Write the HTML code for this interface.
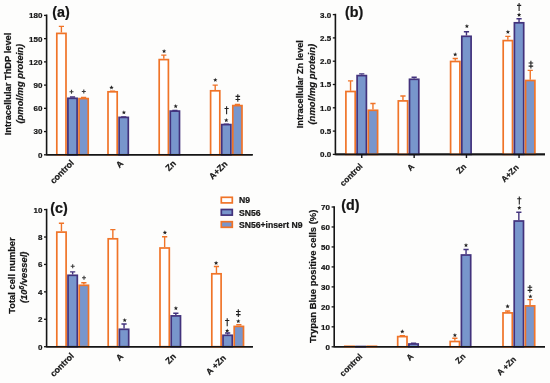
<!DOCTYPE html><html><head><meta charset="utf-8"><style>html,body{margin:0;padding:0;background:#fff;width:550px;height:383px;overflow:hidden}svg{display:block;will-change:transform}</style></head><body>
<svg width="550" height="383" viewBox="0 0 550 383" font-family='"Liberation Sans", sans-serif'><style>text{stroke:#151515;stroke-width:0.22px;paint-order:stroke}</style>
<rect width="550" height="383" fill="#fdfdfc"/>
<path d="M46.6 14.6V154.8H252.7" fill="none" stroke="#151515" stroke-width="1.6"/>
<path d="M44 154.8H46.6" stroke="#151515" stroke-width="1.3"/>
<text x="42.4" y="157.7" text-anchor="end" font-size="8" font-weight="bold" fill="#151515">0</text>
<path d="M44 131.57H46.6" stroke="#151515" stroke-width="1.3"/>
<text x="42.4" y="134.47" text-anchor="end" font-size="8" font-weight="bold" fill="#151515">30</text>
<path d="M44 108.33H46.6" stroke="#151515" stroke-width="1.3"/>
<text x="42.4" y="111.23" text-anchor="end" font-size="8" font-weight="bold" fill="#151515">60</text>
<path d="M44 85.1H46.6" stroke="#151515" stroke-width="1.3"/>
<text x="42.4" y="88" text-anchor="end" font-size="8" font-weight="bold" fill="#151515">90</text>
<path d="M44 61.87H46.6" stroke="#151515" stroke-width="1.3"/>
<text x="42.4" y="64.77" text-anchor="end" font-size="8" font-weight="bold" fill="#151515">120</text>
<path d="M44 38.63H46.6" stroke="#151515" stroke-width="1.3"/>
<text x="42.4" y="41.53" text-anchor="end" font-size="8" font-weight="bold" fill="#151515">150</text>
<path d="M44 15.4H46.6" stroke="#151515" stroke-width="1.3"/>
<text x="42.4" y="18.3" text-anchor="end" font-size="8" font-weight="bold" fill="#151515">180</text>
<text x="52.3" y="16.7" font-size="14.3" font-weight="bold" fill="#151515">(a)</text>
<path d="M61.4 32.55V26.4M58.8 26.4H64" stroke="#f07428" stroke-width="1.4"/>
<rect x="56.8" y="33.4" width="9.2" height="121.4" fill="#ffffff" stroke="#f07428" stroke-width="1.7"/>
<path d="M72.5 97.45V97M69.9 97H75.1" stroke="#42327c" stroke-width="1.4"/>
<rect x="67.9" y="98.3" width="9.2" height="56.5" fill="#7896cc" stroke="#42327c" stroke-width="1.7"/>
<path d="M83.6 97.75V97.5M81 97.5H86.2" stroke="#f07428" stroke-width="1.4"/>
<rect x="79" y="98.6" width="9.2" height="56.2" fill="#7896cc" stroke="#f07428" stroke-width="1.7"/>
<text transform="translate(74.5 163.5) rotate(-45)" text-anchor="end" font-size="8.7" font-weight="bold" fill="#151515">control</text>
<path d="M112.6 90.95V91.1M110 91.1H115.2" stroke="#f07428" stroke-width="1.4"/>
<rect x="108" y="91.8" width="9.2" height="63" fill="#ffffff" stroke="#f07428" stroke-width="1.7"/>
<path d="M123.7 116.55V117M121.1 117H126.3" stroke="#42327c" stroke-width="1.4"/>
<rect x="119.1" y="117.4" width="9.2" height="37.4" fill="#7896cc" stroke="#42327c" stroke-width="1.7"/>
<text transform="translate(124 164) rotate(-45)" text-anchor="end" font-size="8.7" font-weight="bold" fill="#151515">A</text>
<path d="M163.8 58.75V55.1M161.2 55.1H166.4" stroke="#f07428" stroke-width="1.4"/>
<rect x="159.2" y="59.6" width="9.2" height="95.2" fill="#ffffff" stroke="#f07428" stroke-width="1.7"/>
<path d="M174.9 110.25V110.5M172.3 110.5H177.5" stroke="#42327c" stroke-width="1.4"/>
<rect x="170.3" y="111.1" width="9.2" height="43.7" fill="#7896cc" stroke="#42327c" stroke-width="1.7"/>
<text transform="translate(176.5 164) rotate(-45)" text-anchor="end" font-size="8.7" font-weight="bold" fill="#151515">Zn</text>
<path d="M215.2 89.95V85.1M212.6 85.1H217.8" stroke="#f07428" stroke-width="1.4"/>
<rect x="210.6" y="90.8" width="9.2" height="64" fill="#ffffff" stroke="#f07428" stroke-width="1.7"/>
<path d="M226.3 123.75V124.2M223.7 124.2H228.9" stroke="#42327c" stroke-width="1.4"/>
<rect x="221.7" y="124.6" width="9.2" height="30.2" fill="#7896cc" stroke="#42327c" stroke-width="1.7"/>
<path d="M237.4 104.75V104.5M234.8 104.5H240" stroke="#f07428" stroke-width="1.4"/>
<rect x="232.8" y="105.6" width="9.2" height="49.2" fill="#7896cc" stroke="#f07428" stroke-width="1.7"/>
<text transform="translate(228 164.5) rotate(-45)" text-anchor="end" font-size="8.7" font-weight="bold" fill="#151515">A+Zn</text>
<path d="M46.6 154.8H252.7" fill="none" stroke="#151515" stroke-width="1.6"/>
<path d="M69.5 91.8H73.5M71.5 89.8V93.8" stroke="#3a3a3a" stroke-width="1.1"/>
<path d="M81.8 91.5H85.8M83.8 89.5V93.5" stroke="#3a3a3a" stroke-width="1.1"/>
<polygon points="111.5,85.3 112.09,86.79 113.69,86.89 112.45,87.91 112.85,89.46 111.5,88.6 110.15,89.46 110.55,87.91 109.31,86.89 110.91,86.79" fill="#222"/>
<polygon points="123.9,110.2 124.49,111.69 126.09,111.79 124.85,112.81 125.25,114.36 123.9,113.5 122.55,114.36 122.95,112.81 121.71,111.79 123.31,111.69" fill="#222"/>
<polygon points="164.1,48.9 164.69,50.39 166.29,50.49 165.05,51.51 165.45,53.06 164.1,52.2 162.75,53.06 163.15,51.51 161.91,50.49 163.51,50.39" fill="#222"/>
<polygon points="175.7,104 176.29,105.49 177.89,105.59 176.65,106.61 177.05,108.16 175.7,107.3 174.35,108.16 174.75,106.61 173.51,105.59 175.11,105.49" fill="#222"/>
<polygon points="215.3,77.7 215.89,79.19 217.49,79.29 216.25,80.31 216.65,81.86 215.3,81 213.95,81.86 214.35,80.31 213.11,79.29 214.71,79.19" fill="#222"/>
<polygon points="226.3,118 226.89,119.49 228.49,119.59 227.25,120.61 227.65,122.16 226.3,121.3 224.95,122.16 225.35,120.61 224.11,119.59 225.71,119.49" fill="#222"/>
<path d="M226.6 106.2V114.2M224.5 108.5H228.7" stroke="#222" stroke-width="1.1"/>
<path d="M237.8 94.2V101.8M235.5 96.4H240.1M235.5 99.5H240.1" stroke="#222" stroke-width="1.1"/>
<text transform="translate(10.9 84) rotate(-90)" text-anchor="middle" font-size="9.3" font-weight="bold" fill="#151515">Intracellular ThDP level</text>
<text transform="translate(23 83.7) rotate(-90)" text-anchor="middle" font-size="9.4" font-weight="bold" font-style="italic" fill="#151515">(pmol/mg protein)</text>
<path d="M335.4 13.8V154.4H545" fill="none" stroke="#151515" stroke-width="1.6"/>
<path d="M332.8 154.4H335.4" stroke="#151515" stroke-width="1.3"/>
<text x="331.2" y="157.3" text-anchor="end" font-size="8" font-weight="bold" fill="#151515">0.0</text>
<path d="M332.8 131.1H335.4" stroke="#151515" stroke-width="1.3"/>
<text x="331.2" y="134" text-anchor="end" font-size="8" font-weight="bold" fill="#151515">0.5</text>
<path d="M332.8 107.8H335.4" stroke="#151515" stroke-width="1.3"/>
<text x="331.2" y="110.7" text-anchor="end" font-size="8" font-weight="bold" fill="#151515">1.0</text>
<path d="M332.8 84.5H335.4" stroke="#151515" stroke-width="1.3"/>
<text x="331.2" y="87.4" text-anchor="end" font-size="8" font-weight="bold" fill="#151515">1.5</text>
<path d="M332.8 61.2H335.4" stroke="#151515" stroke-width="1.3"/>
<text x="331.2" y="64.1" text-anchor="end" font-size="8" font-weight="bold" fill="#151515">2.0</text>
<path d="M332.8 37.9H335.4" stroke="#151515" stroke-width="1.3"/>
<text x="331.2" y="40.8" text-anchor="end" font-size="8" font-weight="bold" fill="#151515">2.5</text>
<path d="M332.8 14.6H335.4" stroke="#151515" stroke-width="1.3"/>
<text x="331.2" y="17.5" text-anchor="end" font-size="8" font-weight="bold" fill="#151515">3.0</text>
<text x="344.9" y="16.8" font-size="14.3" font-weight="bold" fill="#151515">(b)</text>
<path d="M350.55 90.65V80.9M347.95 80.9H353.15" stroke="#f07428" stroke-width="1.4"/>
<rect x="345.9" y="91.5" width="9.3" height="62.9" fill="#ffffff" stroke="#f07428" stroke-width="1.7"/>
<path d="M361.75 74.75V73.9M359.15 73.9H364.35" stroke="#42327c" stroke-width="1.4"/>
<rect x="357.1" y="75.6" width="9.3" height="78.8" fill="#7896cc" stroke="#42327c" stroke-width="1.7"/>
<path d="M372.95 109.45V103.5M370.35 103.5H375.55" stroke="#f07428" stroke-width="1.4"/>
<rect x="368.3" y="110.3" width="9.3" height="44.1" fill="#7896cc" stroke="#f07428" stroke-width="1.7"/>
<path d="M361.75 154.4V158" stroke="#151515" stroke-width="1.4"/>
<text transform="translate(363.2 166.8) rotate(-45)" text-anchor="end" font-size="8.3" font-weight="bold" fill="#151515">control</text>
<path d="M402.95 100.05V96M400.35 96H405.55" stroke="#f07428" stroke-width="1.4"/>
<rect x="398.3" y="100.9" width="9.3" height="53.5" fill="#ffffff" stroke="#f07428" stroke-width="1.7"/>
<path d="M414.15 78.45V77.2M411.55 77.2H416.75" stroke="#42327c" stroke-width="1.4"/>
<rect x="409.5" y="79.3" width="9.3" height="75.1" fill="#7896cc" stroke="#42327c" stroke-width="1.7"/>
<path d="M414.15 154.4V158" stroke="#151515" stroke-width="1.4"/>
<text transform="translate(414.8 167.2) rotate(-45)" text-anchor="end" font-size="8.3" font-weight="bold" fill="#151515">A</text>
<path d="M455.25 60.65V58.5M452.65 58.5H457.85" stroke="#f07428" stroke-width="1.4"/>
<rect x="450.6" y="61.5" width="9.3" height="92.9" fill="#ffffff" stroke="#f07428" stroke-width="1.7"/>
<path d="M466.45 35.45V31.7M463.85 31.7H469.05" stroke="#42327c" stroke-width="1.4"/>
<rect x="461.8" y="36.3" width="9.3" height="118.1" fill="#7896cc" stroke="#42327c" stroke-width="1.7"/>
<path d="M466.45 154.4V158" stroke="#151515" stroke-width="1.4"/>
<text transform="translate(466.8 167.2) rotate(-45)" text-anchor="end" font-size="8.3" font-weight="bold" fill="#151515">Zn</text>
<path d="M507.85 39.75V36.4M505.25 36.4H510.45" stroke="#f07428" stroke-width="1.4"/>
<rect x="503.2" y="40.6" width="9.3" height="113.8" fill="#ffffff" stroke="#f07428" stroke-width="1.7"/>
<path d="M519.05 21.95V18.7M516.45 18.7H521.65" stroke="#42327c" stroke-width="1.4"/>
<rect x="514.4" y="22.8" width="9.3" height="131.6" fill="#7896cc" stroke="#42327c" stroke-width="1.7"/>
<path d="M530.25 79.65V70.4M527.65 70.4H532.85" stroke="#f07428" stroke-width="1.4"/>
<rect x="525.6" y="80.5" width="9.3" height="73.9" fill="#7896cc" stroke="#f07428" stroke-width="1.7"/>
<path d="M519.05 154.4V158" stroke="#151515" stroke-width="1.4"/>
<text transform="translate(519.3 168) rotate(-45)" text-anchor="end" font-size="8.3" font-weight="bold" fill="#151515">A+Zn</text>
<path d="M335.4 154.4H545" fill="none" stroke="#151515" stroke-width="1.6"/>
<polygon points="455.2,52.2 455.79,53.69 457.39,53.79 456.15,54.81 456.55,56.36 455.2,55.5 453.85,56.36 454.25,54.81 453.01,53.79 454.61,53.69" fill="#222"/>
<polygon points="466.9,23.9 467.49,25.39 469.09,25.49 467.85,26.51 468.25,28.06 466.9,27.2 465.55,28.06 465.95,26.51 464.71,25.49 466.31,25.39" fill="#222"/>
<polygon points="507.9,29.7 508.49,31.19 510.09,31.29 508.85,32.31 509.25,33.86 507.9,33 506.55,33.86 506.95,32.31 505.71,31.29 507.31,31.19" fill="#222"/>
<polygon points="519.1,12.6 519.69,14.09 521.29,14.19 520.05,15.21 520.45,16.76 519.1,15.9 517.75,16.76 518.15,15.21 516.91,14.19 518.51,14.09" fill="#222"/>
<path d="M519.1 3.1V11.1M517 5.4H521.2" stroke="#222" stroke-width="1.1"/>
<path d="M530.9 60.8V68.4M528.6 63H533.2M528.6 66.1H533.2" stroke="#222" stroke-width="1.1"/>
<text transform="translate(303 84.2) rotate(-90)" text-anchor="middle" font-size="9.1" font-weight="bold" fill="#151515">Intracellular Zn level</text>
<text transform="translate(314.6 84.2) rotate(-90)" text-anchor="middle" font-size="9.5" font-weight="bold" font-style="italic" fill="#151515">(nmol/mg protein)</text>
<path d="M46.6 208.8V346.7H252.9" fill="none" stroke="#151515" stroke-width="1.6"/>
<path d="M44 346.7H46.6" stroke="#151515" stroke-width="1.3"/>
<text x="42.4" y="349.6" text-anchor="end" font-size="8" font-weight="bold" fill="#151515">0</text>
<path d="M44 319.28H46.6" stroke="#151515" stroke-width="1.3"/>
<text x="42.4" y="322.18" text-anchor="end" font-size="8" font-weight="bold" fill="#151515">2</text>
<path d="M44 291.86H46.6" stroke="#151515" stroke-width="1.3"/>
<text x="42.4" y="294.76" text-anchor="end" font-size="8" font-weight="bold" fill="#151515">4</text>
<path d="M44 264.44H46.6" stroke="#151515" stroke-width="1.3"/>
<text x="42.4" y="267.34" text-anchor="end" font-size="8" font-weight="bold" fill="#151515">6</text>
<path d="M44 237.02H46.6" stroke="#151515" stroke-width="1.3"/>
<text x="42.4" y="239.92" text-anchor="end" font-size="8" font-weight="bold" fill="#151515">8</text>
<path d="M44 209.6H46.6" stroke="#151515" stroke-width="1.3"/>
<text x="42.4" y="212.5" text-anchor="end" font-size="8" font-weight="bold" fill="#151515">10</text>
<text x="50.2" y="212.9" font-size="14.3" font-weight="bold" fill="#151515">(c)</text>
<path d="M61.45 231.25V223.3M58.85 223.3H64.05" stroke="#f07428" stroke-width="1.4"/>
<rect x="56.8" y="232.1" width="9.3" height="114.6" fill="#ffffff" stroke="#f07428" stroke-width="1.7"/>
<path d="M72.65 274.45V271.9M70.05 271.9H75.25" stroke="#42327c" stroke-width="1.4"/>
<rect x="68" y="275.3" width="9.3" height="71.4" fill="#7896cc" stroke="#42327c" stroke-width="1.7"/>
<path d="M83.85 284.45V282.8M81.25 282.8H86.45" stroke="#f07428" stroke-width="1.4"/>
<rect x="79.2" y="285.3" width="9.3" height="61.4" fill="#7896cc" stroke="#f07428" stroke-width="1.7"/>
<text transform="translate(74.5 356.5) rotate(-45)" text-anchor="end" font-size="8.7" font-weight="bold" fill="#151515">control</text>
<path d="M112.85 237.95V229.6M110.25 229.6H115.45" stroke="#f07428" stroke-width="1.4"/>
<rect x="108.2" y="238.8" width="9.3" height="107.9" fill="#ffffff" stroke="#f07428" stroke-width="1.7"/>
<path d="M124.05 328.45V324M121.45 324H126.65" stroke="#42327c" stroke-width="1.4"/>
<rect x="119.4" y="329.3" width="9.3" height="17.4" fill="#7896cc" stroke="#42327c" stroke-width="1.7"/>
<text transform="translate(124 357) rotate(-45)" text-anchor="end" font-size="8.7" font-weight="bold" fill="#151515">A</text>
<path d="M164.65 247.15V236.7M162.05 236.7H167.25" stroke="#f07428" stroke-width="1.4"/>
<rect x="160" y="248" width="9.3" height="98.7" fill="#ffffff" stroke="#f07428" stroke-width="1.7"/>
<path d="M175.85 315.05V313.2M173.25 313.2H178.45" stroke="#42327c" stroke-width="1.4"/>
<rect x="171.2" y="315.9" width="9.3" height="30.8" fill="#7896cc" stroke="#42327c" stroke-width="1.7"/>
<text transform="translate(176.5 357) rotate(-45)" text-anchor="end" font-size="8.7" font-weight="bold" fill="#151515">Zn</text>
<path d="M216.45 272.95V266.5M213.85 266.5H219.05" stroke="#f07428" stroke-width="1.4"/>
<rect x="211.8" y="273.8" width="9.3" height="72.9" fill="#ffffff" stroke="#f07428" stroke-width="1.7"/>
<path d="M227.65 334.45V333M225.05 333H230.25" stroke="#42327c" stroke-width="1.4"/>
<rect x="223" y="335.3" width="9.3" height="11.4" fill="#7896cc" stroke="#42327c" stroke-width="1.7"/>
<path d="M238.85 325.55V324.8M236.25 324.8H241.45" stroke="#f07428" stroke-width="1.4"/>
<rect x="234.2" y="326.4" width="9.3" height="20.3" fill="#7896cc" stroke="#f07428" stroke-width="1.7"/>
<text transform="translate(226.5 358.5) rotate(-45)" text-anchor="end" font-size="8.7" font-weight="bold" fill="#151515">A +Zn</text>
<path d="M46.6 346.7H252.9" fill="none" stroke="#151515" stroke-width="1.6"/>
<path d="M70.7 266.3H74.7M72.7 264.3V268.3" stroke="#3a3a3a" stroke-width="1.1"/>
<path d="M82 277.8H86M84 275.8V279.8" stroke="#3a3a3a" stroke-width="1.1"/>
<polygon points="124.7,317.9 125.29,319.39 126.89,319.49 125.65,320.51 126.05,322.06 124.7,321.2 123.35,322.06 123.75,320.51 122.51,319.49 124.11,319.39" fill="#222"/>
<polygon points="164.9,230.3 165.49,231.79 167.09,231.89 165.85,232.91 166.25,234.46 164.9,233.6 163.55,234.46 163.95,232.91 162.71,231.89 164.31,231.79" fill="#222"/>
<polygon points="175.9,306 176.49,307.49 178.09,307.59 176.85,308.61 177.25,310.16 175.9,309.3 174.55,310.16 174.95,308.61 173.71,307.59 175.31,307.49" fill="#222"/>
<polygon points="216.1,260.8 216.69,262.29 218.29,262.39 217.05,263.41 217.45,264.96 216.1,264.1 214.75,264.96 215.15,263.41 213.91,262.39 215.51,262.29" fill="#222"/>
<polygon points="227.2,328.4 227.79,329.89 229.39,329.99 228.15,331.01 228.55,332.56 227.2,331.7 225.85,332.56 226.25,331.01 225.01,329.99 226.61,329.89" fill="#222"/>
<path d="M227.2 318.2V326.2M225.1 320.5H229.3" stroke="#222" stroke-width="1.1"/>
<polygon points="238.3,318.9 238.89,320.39 240.49,320.49 239.25,321.51 239.65,323.06 238.3,322.2 236.95,323.06 237.35,321.51 236.11,320.49 237.71,320.39" fill="#222"/>
<path d="M238.3 309.3V316.9M236 311.5H240.6M236 314.6H240.6" stroke="#222" stroke-width="1.1"/>
<text transform="translate(14.7 275.5) rotate(-90)" text-anchor="middle" font-size="9.3" font-weight="bold" fill="#151515">Total cell number</text>
<text transform="translate(27 277.3) rotate(-90)" text-anchor="middle" font-size="9.3" font-weight="bold" font-style="italic" fill="#151515">(10<tspan baseline-shift="super" font-size="6.8">6</tspan>/vessel)</text>
<path d="M334.2 206.2V346.8H545" fill="none" stroke="#151515" stroke-width="1.6"/>
<path d="M331.6 346.8H334.2" stroke="#151515" stroke-width="1.3"/>
<text x="330" y="349.7" text-anchor="end" font-size="8" font-weight="bold" fill="#151515">0</text>
<path d="M331.6 326.83H334.2" stroke="#151515" stroke-width="1.3"/>
<text x="330" y="329.73" text-anchor="end" font-size="8" font-weight="bold" fill="#151515">10</text>
<path d="M331.6 306.86H334.2" stroke="#151515" stroke-width="1.3"/>
<text x="330" y="309.76" text-anchor="end" font-size="8" font-weight="bold" fill="#151515">20</text>
<path d="M331.6 286.89H334.2" stroke="#151515" stroke-width="1.3"/>
<text x="330" y="289.79" text-anchor="end" font-size="8" font-weight="bold" fill="#151515">30</text>
<path d="M331.6 266.91H334.2" stroke="#151515" stroke-width="1.3"/>
<text x="330" y="269.81" text-anchor="end" font-size="8" font-weight="bold" fill="#151515">40</text>
<path d="M331.6 246.94H334.2" stroke="#151515" stroke-width="1.3"/>
<text x="330" y="249.84" text-anchor="end" font-size="8" font-weight="bold" fill="#151515">50</text>
<path d="M331.6 226.97H334.2" stroke="#151515" stroke-width="1.3"/>
<text x="330" y="229.87" text-anchor="end" font-size="8" font-weight="bold" fill="#151515">60</text>
<path d="M331.6 207H334.2" stroke="#151515" stroke-width="1.3"/>
<text x="330" y="209.9" text-anchor="end" font-size="8" font-weight="bold" fill="#151515">70</text>
<text x="341.2" y="210.2" font-size="14.3" font-weight="bold" fill="#151515">(d)</text>
<rect x="344.8" y="346.3" width="9.3" height="0.5" fill="#ffffff" stroke="#f07428" stroke-width="1.7"/>
<rect x="356" y="346.5" width="9.3" height="0.3" fill="#7896cc" stroke="#42327c" stroke-width="1.7"/>
<rect x="367.2" y="346.3" width="9.3" height="0.5" fill="#7896cc" stroke="#f07428" stroke-width="1.7"/>
<text transform="translate(363 357) rotate(-45)" text-anchor="end" font-size="8.3" font-weight="bold" fill="#151515">control</text>
<path d="M402.35 335.75V335.8M399.75 335.8H404.95" stroke="#f07428" stroke-width="1.4"/>
<rect x="397.7" y="336.6" width="9.3" height="10.2" fill="#ffffff" stroke="#f07428" stroke-width="1.7"/>
<path d="M413.55 343.15V343.2M410.95 343.2H416.15" stroke="#42327c" stroke-width="1.4"/>
<rect x="408.9" y="344" width="9.3" height="2.8" fill="#7896cc" stroke="#42327c" stroke-width="1.7"/>
<text transform="translate(414 357) rotate(-45)" text-anchor="end" font-size="8.3" font-weight="bold" fill="#151515">A</text>
<path d="M454.85 340.65V338.2M452.25 338.2H457.45" stroke="#f07428" stroke-width="1.4"/>
<rect x="450.2" y="341.5" width="9.3" height="5.3" fill="#ffffff" stroke="#f07428" stroke-width="1.7"/>
<path d="M466.05 254.15V249.5M463.45 249.5H468.65" stroke="#42327c" stroke-width="1.4"/>
<rect x="461.4" y="255" width="9.3" height="91.8" fill="#7896cc" stroke="#42327c" stroke-width="1.7"/>
<text transform="translate(466 357) rotate(-45)" text-anchor="end" font-size="8.3" font-weight="bold" fill="#151515">Zn</text>
<path d="M507.65 312.05V311M505.05 311H510.25" stroke="#f07428" stroke-width="1.4"/>
<rect x="503" y="312.9" width="9.3" height="33.9" fill="#ffffff" stroke="#f07428" stroke-width="1.7"/>
<path d="M518.85 220.15V212.2M516.25 212.2H521.45" stroke="#42327c" stroke-width="1.4"/>
<rect x="514.2" y="221" width="9.3" height="125.8" fill="#7896cc" stroke="#42327c" stroke-width="1.7"/>
<path d="M530.05 305.05V299.6M527.45 299.6H532.65" stroke="#f07428" stroke-width="1.4"/>
<rect x="525.4" y="305.9" width="9.3" height="40.9" fill="#7896cc" stroke="#f07428" stroke-width="1.7"/>
<text transform="translate(516.6 359.8) rotate(-45)" text-anchor="end" font-size="8.3" font-weight="bold" fill="#151515">A +Zn</text>
<path d="M334.2 346.8H545" fill="none" stroke="#151515" stroke-width="1.6"/>
<polygon points="402.3,329.3 402.89,330.79 404.49,330.89 403.25,331.91 403.65,333.46 402.3,332.6 400.95,333.46 401.35,331.91 400.11,330.89 401.71,330.79" fill="#222"/>
<polygon points="454.9,332.9 455.49,334.39 457.09,334.49 455.85,335.51 456.25,337.06 454.9,336.2 453.55,337.06 453.95,335.51 452.71,334.49 454.31,334.39" fill="#222"/>
<polygon points="466,243 466.59,244.49 468.19,244.59 466.95,245.61 467.35,247.16 466,246.3 464.65,247.16 465.05,245.61 463.81,244.59 465.41,244.49" fill="#222"/>
<polygon points="507.6,304.1 508.19,305.59 509.79,305.69 508.55,306.71 508.95,308.26 507.6,307.4 506.25,308.26 506.65,306.71 505.41,305.69 507.01,305.59" fill="#222"/>
<polygon points="519.3,205.6 519.89,207.09 521.49,207.19 520.25,208.21 520.65,209.76 519.3,208.9 517.95,209.76 518.35,208.21 517.11,207.19 518.71,207.09" fill="#222"/>
<path d="M519.3 196.4V204.4M517.2 198.7H521.4" stroke="#222" stroke-width="1.1"/>
<polygon points="530.4,294.2 530.99,295.69 532.59,295.79 531.35,296.81 531.75,298.36 530.4,297.5 529.05,298.36 529.45,296.81 528.21,295.79 529.81,295.69" fill="#222"/>
<path d="M529.9 285.1V292.7M527.6 287.3H532.2M527.6 290.4H532.2" stroke="#222" stroke-width="1.1"/>
<text transform="translate(315.6 276.3) rotate(-90)" text-anchor="middle" font-size="9.45" font-weight="bold" fill="#151515">Trypan Blue positive cells (%)</text>
<rect x="221.3" y="197.3" width="11" height="5.6" fill="#ffffff" stroke="#f07428" stroke-width="1.7"/>
<text x="239" y="203.3" font-size="8.65" font-weight="bold" fill="#151515">N9</text>
<rect x="221.3" y="209.5" width="11" height="5.6" fill="#7896cc" stroke="#42327c" stroke-width="1.7"/>
<text x="239" y="215.5" font-size="8.65" font-weight="bold" fill="#151515">SN56</text>
<rect x="221.3" y="221.7" width="11" height="5.6" fill="#7896cc" stroke="#f07428" stroke-width="1.7"/>
<text x="239" y="227.7" font-size="8.65" font-weight="bold" fill="#151515">SN56+insert N9</text>
</svg></body></html>
